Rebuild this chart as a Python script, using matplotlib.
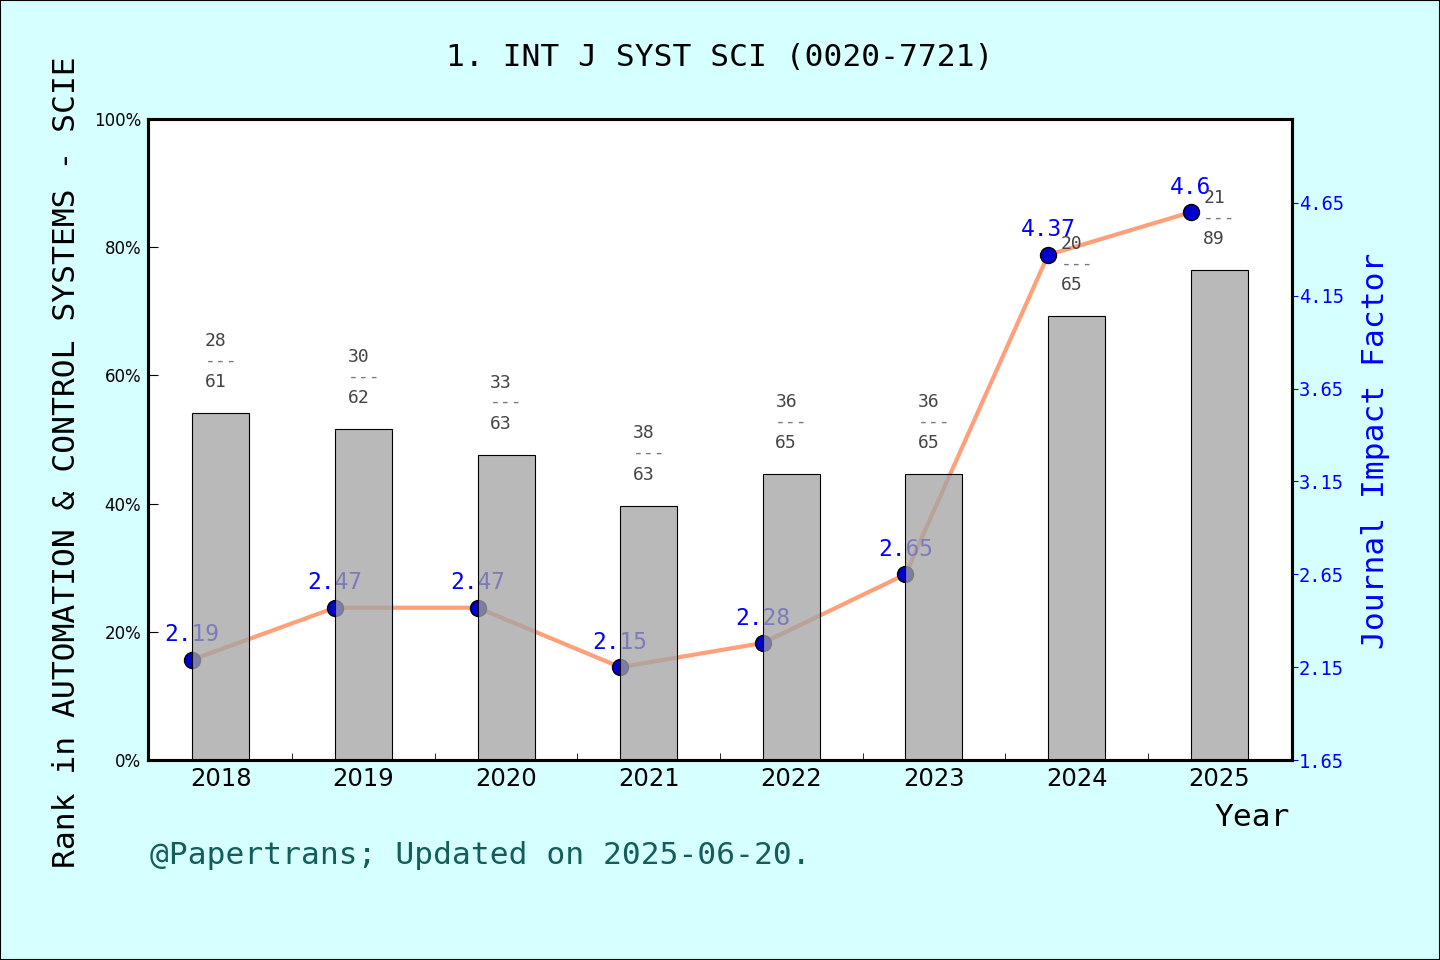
import matplotlib
matplotlib.use('Agg')

import matplotlib.pyplot as plt
from matplotlib.patches import Rectangle
from matplotlib.ticker import FixedLocator

years = ['2018', '2019', '2020', '2021', '2022', '2023', '2024', '2025']
impact = [2.19, 2.47, 2.47, 2.15, 2.28, 2.65, 4.37, 4.6]
rank = [28, 30, 33, 38, 36, 36, 20, 21]
total = [61, 62, 63, 63, 65, 65, 65, 89]
percentile = [54.1, 51.6, 47.6, 39.7, 44.6, 44.6, 69.2, 76.4]
if_ticks = [1.65, 2.15, 2.65, 3.15, 3.65, 4.15, 4.65]
pct_ticks = [0, 20, 40, 60, 80, 100]

MONO = 'DejaVu Sans Mono'
BG = '#d6ffff'

fig = plt.figure(figsize=[14.4, 9.6], dpi=100, facecolor=BG)
rect = [148/1440, 200/960, 1144/1440, 641/960]

# impact factor axis (drawn underneath the bars)
ax_if = fig.add_axes(rect, label='if')
ax_if.set_facecolor('white')
xs = list(range(len(years)))
x_line = [i - 0.2 for i in xs]
ax_if.plot(x_line, impact, '-', color='#ffa07a', lw=3, zorder=2)
ax_if.plot(x_line, impact, 'o', color='#0000cd', mec='black', mew=1, ms=11.5, zorder=3)
for x, v in zip(x_line, impact):
    ax_if.annotate(str(v), (x, v), xytext=(0, 18), textcoords='offset points',
                   ha='center', va='center', color='blue', fontsize=16.5, family=MONO, zorder=4)
ax_if.set_ylim(1.65, 5.102)
ax_if.set_xlim(-0.51, 7.51)
ax_if.yaxis.tick_right()
ax_if.set_yticks(if_ticks)
ax_if.set_yticklabels(['%.2f' % t for t in if_ticks], color='blue', fontsize=13.5, family=MONO)
ax_if.tick_params(axis='y', direction='out', length=4, pad=1, color='blue')
ax_if.set_xticks([])

# rank percentile bars on top
ax = fig.add_axes(rect, label='bars')
ax.patch.set_visible(False)
ax.bar(xs, percentile, width=0.4, color=(0.64, 0.64, 0.64, 0.76),
       edgecolor='black', linewidth=0.8, zorder=2)
for i in xs:
    p = percentile[i]
    for txt, dy, col in [(str(total[i]), 22.3, '#444444'), ('---', 38, '#7a7a7a'),
                         (str(rank[i]), 52, '#444444')]:
        ax.annotate(txt, (i, p), xytext=(-11.5, dy), textcoords='offset points',
                    ha='left', va='center', color=col, fontsize=13, family=MONO)
ax.set_ylim(0, 100)
ax.set_yticks(pct_ticks)
ax.set_yticklabels(['%d%%' % t for t in pct_ticks], fontsize=12)
ax.tick_params(axis='y', direction='in', length=7, pad=5)
ax.set_xticks(xs)
ax.set_xticklabels(years, fontsize=17.5)
ax.xaxis.set_minor_locator(FixedLocator([i + 0.5 for i in range(len(years) - 1)]))
ax.tick_params(axis='x', which='major', length=0, pad=5)
ax.tick_params(axis='x', which='minor', direction='in', length=5)
ax.set_xlim(-0.51, 7.51)

for a in (ax, ax_if):
    for s in a.spines.values():
        s.set_linewidth(2.2)
        s.set_color('black')

fig.text(0.5, 1 - 57/960, '1. INT J SYST SCI (0020-7721)', ha='center', va='center',
         fontsize=22.5, family=MONO)
fig.text(67/1440, 1 - 462/960, 'Rank in AUTOMATION & CONTROL SYSTEMS - SCIE', rotation=90,
         ha='center', va='center', fontsize=22.6, family=MONO)
fig.text(1375/1440, 1 - 451/960, 'Journal Impact Factor', rotation=90, color='blue',
         ha='center', va='center', fontsize=22.5, family=MONO)
fig.text(1290/1440, 1 - 817/960, 'Year', ha='right', va='center', fontsize=22.5, family=MONO)
fig.text(150/1440, 1 - 855/960, '@Papertrans; Updated on 2025-06-20.', ha='left', va='center',
         fontsize=22.5, family=MONO, color='#125e5a')

fig.patches.append(Rectangle((0, 0), 1, 1, transform=fig.transFigure, fill=False,
                             edgecolor='black', lw=1.5))

fig.savefig('out.png', dpi=100, facecolor=BG)
plt.close(fig)
